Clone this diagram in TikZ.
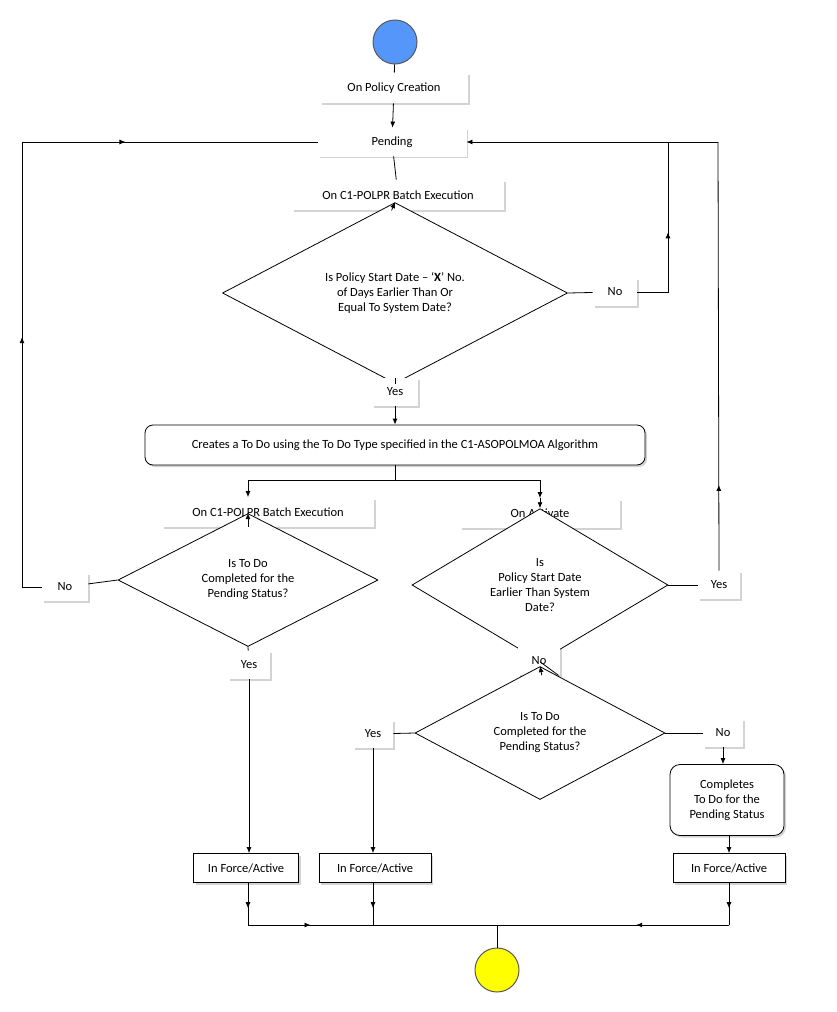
\documentclass[tikz,border=0pt]{standalone}
\usepackage{fontspec}
\setmainfont{Carlito}
\usetikzlibrary{shapes.geometric,shadows,decorations.markings,arrows.meta}
\begin{document}
\begin{tikzpicture}[x=1pt,y=-1pt,
  font=\fontsize{12.5}{15}\selectfont,
  line width=0.8pt,
  tip/.style={-{Latex[length=6pt,width=5pt]}},
  mid/.style={postaction={decorate},decoration={markings,mark=at position #1 with {\arrow{Latex[length=6pt,width=5pt]}}}},
  lbl/.style={fill=white,drop shadow={shadow xshift=2pt,shadow yshift=-2pt,opacity=0.35},inner sep=0pt,align=center},
  box/.style={draw,fill=white,drop shadow={shadow xshift=2pt,shadow yshift=-2pt,opacity=0.35},inner sep=0pt,align=center},
  dia/.style={draw,fill=white,diamond,inner sep=0pt,align=center}]
\useasboundingbox (0,0) rectangle (836,1012);
% start / end
\node[circle,draw=gray!70!black,fill={rgb,255:red,85;green,150;blue,250},minimum size=44pt,line width=1pt] (s) at (395,42) {};
\node[circle,draw=gray!70!black,fill={rgb,255:red,255;green,255;blue,0},minimum size=44pt,line width=1pt] (e) at (497,970) {};
% labels
\node[lbl,minimum width=148pt,minimum height=30pt] (opc) at (394,88) {On Policy Creation};
\node[box,double,double distance=1.2pt,minimum width=148pt,minimum height=28pt] (pend) at (392,142) {Pending};
\node[lbl,minimum width=212pt,minimum height=30pt] (b1) at (398,195) {On C1-POLPR Batch Execution};
\node[dia,minimum width=345pt,minimum height=118pt] (d1) at (395,293) {Is Policy Start Date -- `\textbf{X}' No.\\of Days Earlier Than Or\\Equal To System Date?};
\node[lbl,minimum width=44pt,minimum height=28pt] (no1) at (615,292) {No};
\node[lbl,minimum width=46pt,minimum height=28pt] (yes1) at (395,392) {Yes};
\node[box,rounded corners=8pt,minimum width=500pt,minimum height=40pt] (cr) at (395,445) {Creates a To Do using the To Do Type specified in the C1-ASOPOLMOA Algorithm};
\node[lbl,minimum width=212pt,minimum height=29pt] (b2) at (268,512) {On C1-POLPR Batch Execution};
\node[lbl,minimum width=160pt,minimum height=29pt] (act) at (540,513) {On Activate};
\node[dia,minimum width=260pt,minimum height=100pt] (d2) at (248,580) {Is To Do\\Completed for the\\Pending Status?};
\node[dia,minimum width=256pt,minimum height=92pt] (d3) at (540,585) {Is\\Policy Start Date\\Earlier Than System\\Date?};
\node[lbl,minimum width=46pt,minimum height=28pt] (no2) at (65,587) {No};
\node[lbl,minimum width=42pt,minimum height=28pt] (yes3) at (719,585) {Yes};
\node[lbl,minimum width=42pt,minimum height=28pt] (yes2) at (249,665) {Yes};
\node[lbl,minimum width=42pt,minimum height=28pt] (no3) at (539,661) {No};
\node[dia,minimum width=250pt,minimum height=80pt] (d4) at (540,733) {Is To Do\\Completed for the\\Pending Status?};
\node[lbl,minimum width=40pt,minimum height=28pt] (yes4) at (373,734) {Yes};
\node[lbl,minimum width=40pt,minimum height=28pt] (no4) at (723,733) {No};
\node[box,rounded corners=10pt,minimum width=114pt,minimum height=71pt] (comp) at (727,800) {Completes\\To Do for the\\Pending Status};
\node[box,minimum width=105pt,minimum height=29pt] (f1) at (246,868) {In Force/Active};
\node[box,minimum width=112pt,minimum height=29pt] (f2) at (375,868) {In Force/Active};
\node[box,minimum width=112pt,minimum height=29pt] (f3) at (729,868) {In Force/Active};
\coordinate (lt) at (22,142);
\coordinate (lb) at (22,587);
\coordinate (r1t) at (668,142);
\coordinate (r1b) at (668,292);
\coordinate (r2t) at (718,142);
\coordinate (sp) at (395,480);
\coordinate (spl) at (248,480);
\coordinate (spr) at (540,480);
\coordinate (j1) at (248,925);
\coordinate (j2) at (373,925);
\coordinate (j3) at (729,925);
\coordinate (je) at (497,925);
% connectors
\draw (s) -- (opc);
\draw[tip] (opc) -- (pend);
\draw (pend) -- (b1);
\draw[tip] (b1) -- (d1.north);
\draw (d1.east) -- (no1);
\draw[mid=0.5] (no1.east) -- (r1b) -- (r1t);
\draw (d1.south) -- (yes1);
\draw[tip] (yes1) -- (cr.north);
\draw (cr.south) -- (sp);
\draw[tip] (sp) -- (spl) -- (b2.north -| spl);
\draw[tip] (sp) -- (spr) -- (act.north);
\draw[tip] (b2.south -| spl) -- (d2.north);
\draw[tip] (act) -- (d3.north);
\draw (d2.west) -- (no2);
\draw[mid=0.58] (no2.west) -- (lb) -- (lt);
\draw[mid=0.35] (lt) -- (pend.west);
\draw (d2.south) -- (yes2);
\draw[tip] (yes2) -- (f1.north -| yes2);
\draw (d3.east) -- (yes3);
\draw[mid=0.2] (yes3.north) -- (r2t);
\draw[tip] (r2t) -- (pend.east);
\draw (d3.south) -- (no3);
\draw[tip] (no3) -- (d4.north);
\draw (d4.west) -- (yes4);
\draw[tip] (yes4) -- (f2.north -| yes4);
\draw (d4.east) -- (no4);
\draw[tip] (no4) -- (comp.north -| no4);
\draw[tip] (comp.south -| f3) -- (f3);
\draw[mid=0.6] (f1.south -| j1) -- (j1);
\draw[mid=0.6] (f2.south -| j2) -- (j2);
\draw[mid=0.6] (f3.south -| j3) -- (j3);
\draw (j1) -- (j3);
\draw[mid=0.5] (j1) -- (j2);
\draw[mid=0.4] (j3) -- (je);
\draw (je) -- (e);
\end{tikzpicture}
\end{document}
